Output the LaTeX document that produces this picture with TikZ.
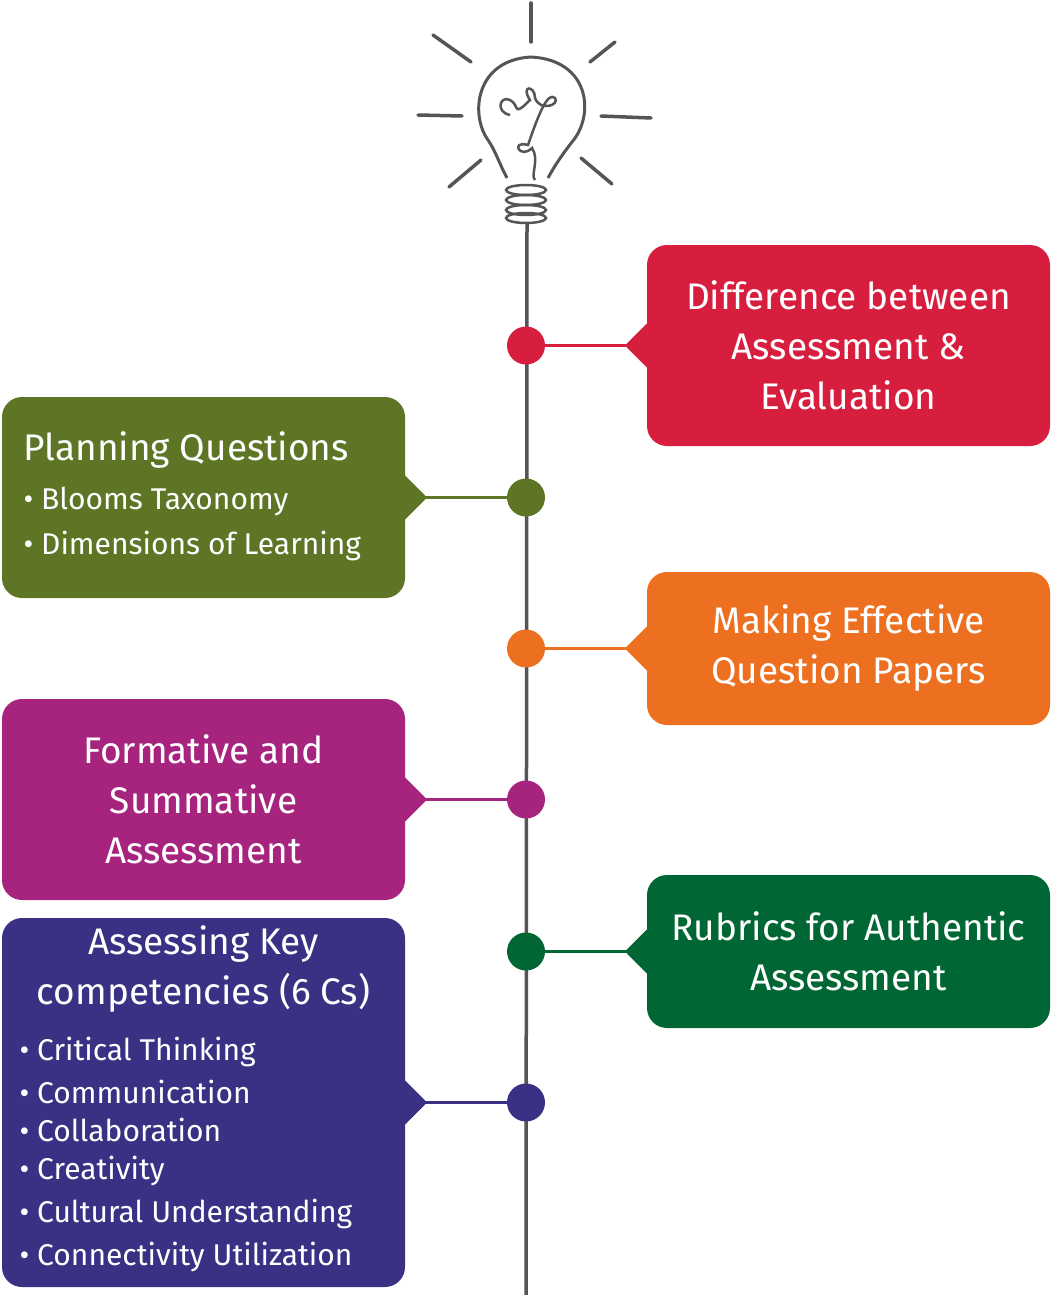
\documentclass[tikz,border=0pt]{standalone}
\usepackage{fontspec}
\setmainfont{Fira Sans}
\usetikzlibrary{positioning}
\definecolor{cRed}{HTML}{D81E3F}
\definecolor{cOlive}{HTML}{5E7526}
\definecolor{cOrange}{HTML}{EC7020}
\definecolor{cMagenta}{HTML}{A6247E}
\definecolor{cGreen}{HTML}{006633}
\definecolor{cPurple}{HTML}{3A3185}
\definecolor{cGrey}{HTML}{555555}
\tikzset{
  box/.style={rounded corners=20pt, minimum width=403pt, text=white, align=center, inner sep=0pt},
  dot/.style={circle, minimum size=38pt, inner sep=0pt},
  ray/.style={cGrey, line width=3.5pt, line cap=round},
}
\newcommand{\titlefont}{\fontsize{37}{50}\selectfont}
\newcommand{\itemfont}{\fontsize{30}{42}\selectfont}
\begin{document}
\begin{tikzpicture}[x=1pt,y=-1pt]
\useasboundingbox (0,0) rectangle (1052,1295);

% bulb
\draw[ray] (531,3) -- (531,42);
\draw[ray] (433,35) -- (471,62);
\draw[ray] (590,62) -- (615,42);
\draw[ray] (418,115) -- (462,116);
\draw[ray] (601,116) -- (651,118);
\draw[ray] (449,187) -- (481,160);
\draw[ray] (581,158) -- (612,184);
\draw[cGrey, line width=3pt, line join=round]
  (507,178) .. controls (500,165) and (495,150) .. (488,140)
  .. controls (470,115) and (475,60) .. (531,57)
  .. controls (590,60) and (595,115) .. (572,142)
  .. controls (562,155) and (555,165) .. (548,178);
\draw[cGrey, line width=2.5pt]
  (510,115) .. controls (495,112) and (500,95) .. (510,100)
  .. controls (520,105) and (512,118) .. (530,100)
  .. controls (520,85) and (535,85) .. (535,98)
  .. controls (540,112) and (560,105) .. (555,98)
  .. controls (548,92) and (540,110) .. (528,145)
  .. controls (510,140) and (520,160) .. (532,148)
  .. controls (540,160) and (530,175) .. (535,180);
\foreach \yy in {190,200,210,218}
  \draw[cGrey, line width=2.5pt] (526,\yy) ellipse (20pt and 5pt);
\coordinate (stemtop) at (527,224);
\coordinate (stembot) at (526,1295);
\draw[cGrey, line width=3.5pt] (527,222) -- (stemtop) -- (stembot);

% boxes
\node[box, fill=cRed, minimum height=201pt, font=\titlefont] (assess) at (848.5,345.5)
  {Difference between\\Assessment \&\\Evaluation};
\node[box, fill=cOlive, minimum height=201pt] (plan) at (203.5,497.5) {};
\node[text=white, font=\titlefont, anchor=west] (plantitle) at (20,450) {Planning Questions};
\node[text=white, align=left, font=\itemfont, anchor=north west] (planlist) at (20,483)
  {• Blooms Taxonomy\\[3pt] • Dimensions of Learning};
\node[box, fill=cOrange, minimum height=153pt, font=\titlefont] (papers) at (848.5,648.5)
  {Making Effective\\Question Papers};
\node[box, fill=cMagenta, minimum height=201pt, font=\titlefont] (forms) at (203.5,799.5)
  {Formative and\\Summative\\Assessment};
\node[box, fill=cGreen, minimum height=153pt, font=\titlefont] (rubric) at (848.5,951.5)
  {Rubrics for Authentic\\Assessment};
\node[box, fill=cPurple, minimum height=369pt] (keycomp) at (203.5,1102.5) {};
\node[text=white, align=center, font=\titlefont, below=4pt of keycomp.north] (keytitle)
  {Assessing Key\\competencies (6 Cs)};
\node[text=white, align=left, font=\itemfont, anchor=north west] (keylist) at (16,1034)
  {• Critical Thinking\\[1pt] • Communication\\[-4pt] • Collaboration\\[-4pt] • Creativity\\[1pt]
   • Cultural Understanding\\[1pt] • Connectivity Utilization};

% tabs
\foreach \b/\c in {assess/cRed, papers/cOrange, rubric/cGreen} {
  \fill[\c] ([yshift=22pt]\b.west) -- ++(-20,20) -- ++(0,4) -- ++(20,20) -- cycle;
  \coordinate (\b-tip) at ([xshift=-20pt]\b.west);
}
\foreach \b/\c in {plan/cOlive, forms/cMagenta, keycomp/cPurple} {
  \fill[\c] ([yshift=22pt]\b.east) -- ++(20,20) -- ++(0,4) -- ++(-20,20) -- cycle;
  \coordinate (\b-tip) at ([xshift=20pt]\b.east);
}

% dots and links
\foreach \b/\c in {assess/cRed, plan/cOlive, papers/cOrange, forms/cMagenta, rubric/cGreen, keycomp/cPurple} {
  \node[dot, fill=\c] (\b-dot) at (526,0 |- \b.east) {};
  \draw[\c, line width=3pt] (\b-dot) -- (\b-tip);
}
\end{tikzpicture}
\end{document}
